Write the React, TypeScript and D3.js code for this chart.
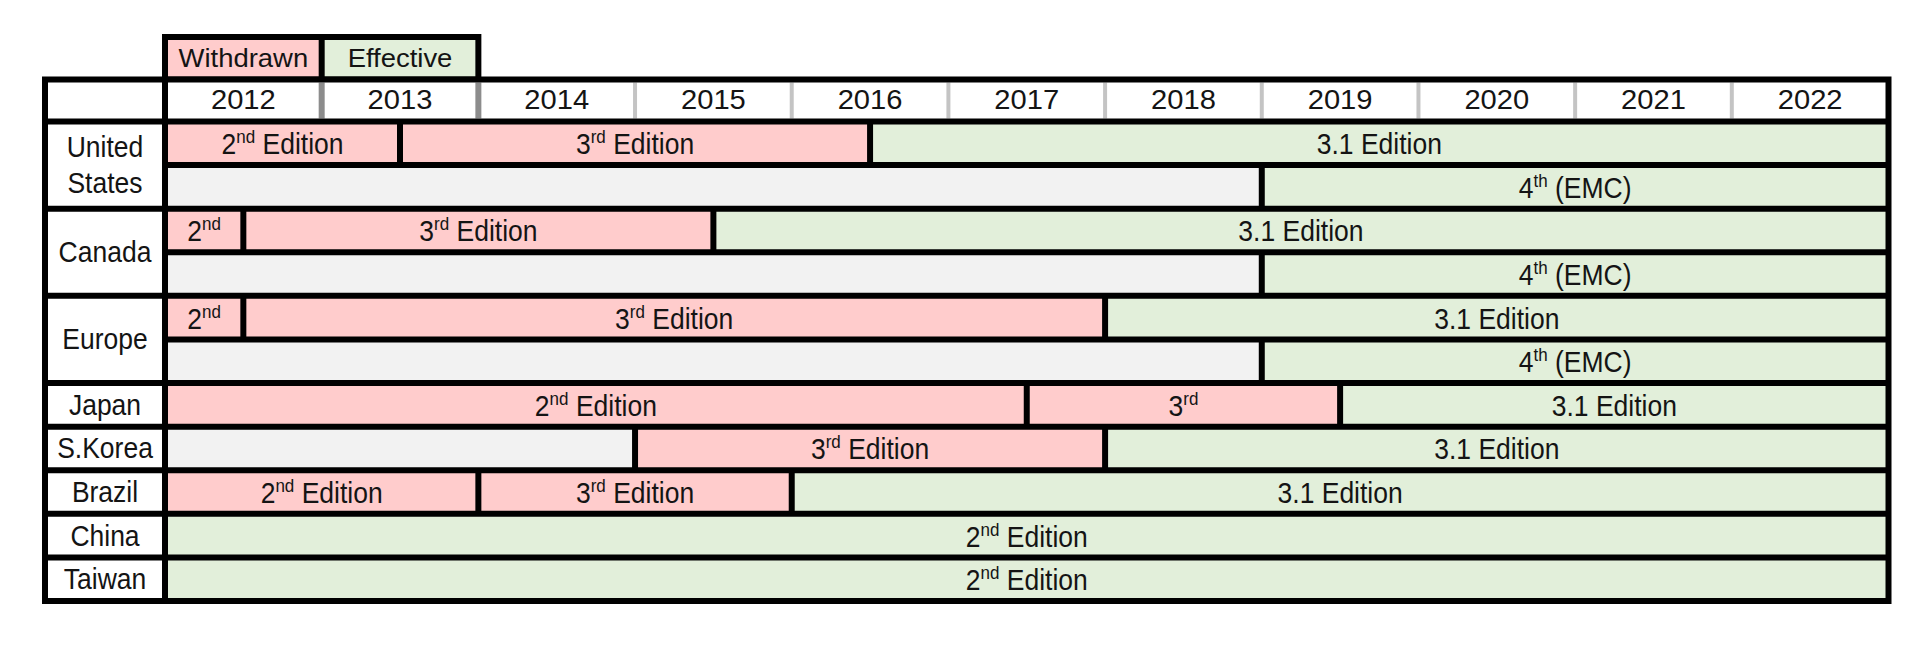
import React from "react";
import * as d3 from "d3";

// ---------- data ----------
const years = [2012, 2013, 2014, 2015, 2016, 2017, 2018, 2019, 2020, 2021, 2022];
const legendItems = [
  { key: "W", label: "Withdrawn" },
  { key: "E", label: "Effective" },
];
const countries = ["United States", "Canada", "Europe", "Japan", "S.Korea", "Brazil", "China", "Taiwan"];
// number of timeline rows per country
const countryRows = [2, 2, 2, 1, 1, 1, 1, 1];

// each row: list of [from, to, status, label]; status W = withdrawn, E = effective, N = none
const rowUS1: [number, number, string, string][] = [
  [2012, 2013.5, "W", "2nd Edition"],
  [2013.5, 2016.5, "W", "3rd Edition"],
  [2016.5, 2023, "E", "3.1 Edition"],
];
const rowUS2: [number, number, string, string][] = [
  [2012, 2019, "N", ""],
  [2019, 2023, "E", "4th (EMC)"],
];
const rowCanada1: [number, number, string, string][] = [
  [2012, 2012.5, "W", "2nd"],
  [2012.5, 2015.5, "W", "3rd Edition"],
  [2015.5, 2023, "E", "3.1 Edition"],
];
const rowCanada2: [number, number, string, string][] = [
  [2012, 2019, "N", ""],
  [2019, 2023, "E", "4th (EMC)"],
];
const rowEurope1: [number, number, string, string][] = [
  [2012, 2012.5, "W", "2nd"],
  [2012.5, 2018, "W", "3rd Edition"],
  [2018, 2023, "E", "3.1 Edition"],
];
const rowEurope2: [number, number, string, string][] = [
  [2012, 2019, "N", ""],
  [2019, 2023, "E", "4th (EMC)"],
];
const rowJapan: [number, number, string, string][] = [
  [2012, 2017.5, "W", "2nd Edition"],
  [2017.5, 2019.5, "W", "3rd"],
  [2019.5, 2023, "E", "3.1 Edition"],
];
const rowKorea: [number, number, string, string][] = [
  [2012, 2015, "N", ""],
  [2015, 2018, "W", "3rd Edition"],
  [2018, 2023, "E", "3.1 Edition"],
];
const rowBrazil: [number, number, string, string][] = [
  [2012, 2014, "W", "2nd Edition"],
  [2014, 2016, "W", "3rd Edition"],
  [2016, 2023, "E", "3.1 Edition"],
];
const rowChina: [number, number, string, string][] = [[2012, 2023, "E", "2nd Edition"]];
const rowTaiwan: [number, number, string, string][] = [[2012, 2023, "E", "2nd Edition"]];

const rows = [
  rowUS1, rowUS2, rowCanada1, rowCanada2, rowEurope1, rowEurope2,
  rowJapan, rowKorea, rowBrazil, rowChina, rowTaiwan,
];

// ---------- style ----------
const FILL: Record<string, string> = { W: "#ffcccc", E: "#e2efda", N: "#f2f2f2" };
const FONT = "'Liberation Sans', Arial, Helvetica, sans-serif";
const BW = 6;

function Label({ x, y, text, size, sx = 1, sy = 1.1 }: { x: number; y: number; text: string; size: number; sx?: number; sy?: number }) {
  const m = text.match(/^(\d)(st|nd|rd|th)(.*)$/);
  const supSize = Math.round(size * 0.66);
  return (
    <text
      transform={`translate(${x},${y}) scale(${sx},${sy})`}
      textAnchor="middle"
      fontFamily={FONT}
      fontSize={size}
      fill="#141414"
    >
      {m ? (
        <>
          <tspan>{m[1]}</tspan>
          <tspan fontSize={supSize} dy={-size * 0.38}>{m[2]}</tspan>
          <tspan dy={size * 0.38}>{m[3]}</tspan>
        </>
      ) : (
        text
      )}
    </text>
  );
}

export default function App() {
  const W = 1932;
  const H = 648;
  const left = 45;
  const colX = 165;
  const right = 1888.5;
  const top = 79.5;
  const headBottom = 121.5;
  const bottom = 601;
  const legendTop = 37;

  const x = d3.scaleLinear().domain([2012, 2023]).range([colX, right]);
  const y = d3.scaleLinear().domain([0, rows.length]).range([headBottom, bottom]);

  // country groups
  const groupStart: number[] = [];
  let acc = 0;
  countryRows.forEach((n) => {
    groupStart.push(acc);
    acc += n;
  });
  const sameGroupBoundary = new Set<number>();
  countryRows.forEach((n, i) => {
    for (let k = 1; k < n; k++) sameGroupBoundary.add(groupStart[i] + k);
  });

  const fs = 26.5;

  return (
    <svg width={W} height={H} style={{ position: "absolute", left: 0, top: 0 }}>
      <rect x={0} y={0} width={W} height={H} fill="#fff" />

      {/* legend */}
      {legendItems.map((d, i) => (
        <rect key={d.key} x={x(2012 + i)} y={legendTop} width={x(2013) - x(2012)} height={top - legendTop} fill={FILL[d.key]} />
      ))}
      {legendItems.map((d, i) => (
        <Label key={d.key} x={(x(2012 + i) + x(2013 + i)) / 2} y={67} text={d.label} size={24.5} sx={1.12} sy={1.02} />
      ))}
      <rect x={x(2012)} y={legendTop} width={x(2014) - x(2012)} height={top - legendTop} fill="none" stroke="#000" strokeWidth={BW} />
      <line x1={x(2013)} x2={x(2013)} y1={legendTop} y2={top} stroke="#000" strokeWidth={BW} />

      {/* header */}
      <rect x={left} y={top} width={right - left} height={headBottom - top} fill="#fff" />
      {years.map((yr) => (
        <Label key={yr} x={(x(yr) + x(yr + 1)) / 2} y={108.5} text={String(yr)} size={fs} sx={1.1} sy={1.06} />
      ))}
      {years.slice(1).map((yr) => {
        const dark = yr <= 2014;
        return (
          <line
            key={yr}
            x1={x(yr)}
            x2={x(yr)}
            y1={top + BW / 2}
            y2={headBottom - BW / 2}
            stroke={dark ? "#8c8c8c" : "#c4c4c4"}
            strokeWidth={dark ? 6 : 4}
          />
        );
      })}

      {/* country column */}
      <rect x={left} y={headBottom} width={colX - left} height={bottom - headBottom} fill="#fff" />
      {countries.map((c, i) => {
        const y0 = y(groupStart[i]);
        const y1 = y(groupStart[i] + countryRows[i]);
        const cy = (y0 + y1) / 2;
        const words = c === "United States" ? ["United", "States"] : [c];
        return words.map((w, k) => (
          <Label
            key={c + k}
            x={(left + colX) / 2}
            y={cy + 10 + (words.length > 1 ? (k - 0.5) * 36 : 0)}
            text={w}
            size={fs}
          />
        ));
      })}

      {/* bars */}
      {rows.map((segs, r) =>
        segs.map((s, j) => (
          <rect key={`${r}-${j}`} x={x(s[0])} y={y(r)} width={x(s[1]) - x(s[0])} height={y(r + 1) - y(r)} fill={FILL[s[2]]} />
        ))
      )}
      {rows.map((segs, r) =>
        segs.map((s, j) =>
          s[3] ? (
            <Label key={`t${r}-${j}`} x={(x(s[0]) + x(s[1])) / 2} y={(y(r) + y(r + 1)) / 2 + 11} text={s[3]} size={fs} />
          ) : null
        )
      )}
      {/* separators between segments */}
      {rows.map((segs, r) =>
        segs.slice(1).map((s, j) => (
          <line key={`s${r}-${j}`} x1={x(s[0])} x2={x(s[0])} y1={y(r)} y2={y(r + 1)} stroke="#000" strokeWidth={BW} />
        ))
      )}

      {/* horizontal row borders */}
      {d3.range(1, rows.length).map((b) => (
        <line
          key={`h${b}`}
          x1={sameGroupBoundary.has(b) ? colX : left}
          x2={right}
          y1={y(b)}
          y2={y(b)}
          stroke="#000"
          strokeWidth={BW}
        />
      ))}
      <line x1={left} x2={right} y1={headBottom} y2={headBottom} stroke="#000" strokeWidth={BW} />
      <line x1={colX} x2={colX} y1={top} y2={bottom} stroke="#000" strokeWidth={BW} />
      <rect x={left} y={top} width={right - left} height={bottom - top} fill="none" stroke="#000" strokeWidth={BW} />
    </svg>
  );
}
